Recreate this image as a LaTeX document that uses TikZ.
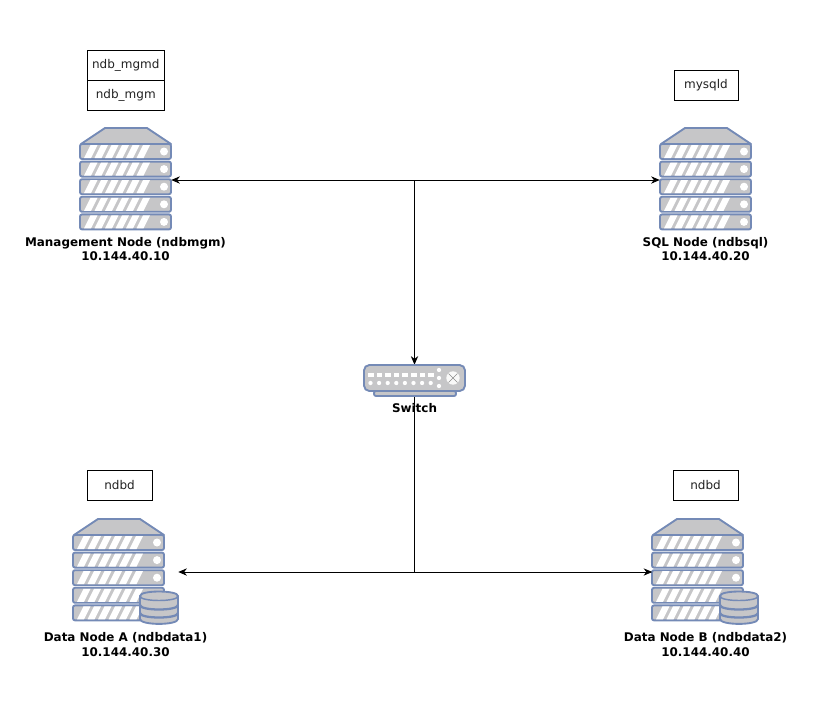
\documentclass[tikz,border=0pt]{standalone}
\usepackage{fontspec}
\setmainfont{DejaVu Sans}
\usetikzlibrary{arrows.meta,positioning}
\definecolor{rackblue}{RGB}{116,138,182}
\definecolor{rackgray}{RGB}{198,198,200}
\definecolor{inkgray}{RGB}{34,34,34}
\tikzset{
    proc/.style={draw=black,fill=white,font=\fontsize{9}{10}\selectfont,text=inkgray,inner sep=0pt,minimum height=22.5pt},
    hostlabel/.style={font=\fontsize{8.95}{10.6}\selectfont\bfseries,text=black,align=center,inner sep=0pt},
    hostbox/.style={inner sep=0pt,minimum width=#1},
    wire/.style={-{Stealth[length=6.5pt,width=5.5pt]},line width=0.6pt},
    bothwire/.style={{Stealth[length=6.5pt,width=5.5pt]}-{Stealth[length=6.5pt,width=5.5pt]},line width=0.6pt},
    slot/.style={draw=rackblue,fill=rackgray,line width=1.4pt,rounded corners=1.5pt},
    pics/serverpic/.style={code={
        % Roof
        \draw[slot,rounded corners=0pt,line join=round] (1,16) -- (25,0) -- (67,0) -- (91,16) -- cycle;
        % Slots
        \foreach \i in {0,1,2,3,4} {
            \draw[slot] (0,16+17.6*\i) rectangle (91,31+17.6*\i);
            \foreach \j in {0,1,2,3,4,5}
                \fill[white] (4+10.5*\j,30+17.6*\i) -- (10.5+10.5*\j,17+17.6*\i) -- (17.5+10.5*\j,17+17.6*\i) -- (11+10.5*\j,30+17.6*\i) -- cycle;
            \fill[white] (84,23.5+17.6*\i) circle (3pt);
        }
    }},
    pics/diskpic/.style={code={
        \draw[slot,rounded corners=0pt] (0,5) .. controls (0,-1) and (38,-1) .. (38,5) -- (38,28) .. controls (38,34.5) and (0,34.5) .. (0,28) -- cycle;
        \draw[draw=rackblue,line width=1.1pt] (0,5) .. controls (0,11) and (38,11) .. (38,5);
        \draw[draw=rackblue,line width=1.7pt] (0,14) .. controls (0,20) and (38,20) .. (38,14);
        \draw[draw=rackblue,line width=1.7pt] (0,22) .. controls (0,28) and (38,28) .. (38,22);
    }},
    pics/switchpic/.style={code={
        \draw[slot] (10,26) rectangle (92,31);
        \draw[slot,rounded corners=4pt] (0,0) rectangle (101,26);
        \foreach \i in {0,...,7} {
            \fill[white] (4+8.6*\i,8) rectangle (9.5+8.6*\i,12);
            \fill[white] (6.5+8.6*\i,18) circle (1.6pt);
        }
        \foreach \k in {5,13,21}
            \fill[white] (75,\k) circle (1.6pt);
        \fill[white!90!rackgray] (89,13) circle (5pt);
        \draw[black!45,line width=0.5pt] (84.5,8.5) -- (93.5,17.5) (84.5,17.5) -- (93.5,8.5);
    }},
}

\begin{document}
\begin{tikzpicture}[x=0.75pt,y=-0.75pt]
    \useasboundingbox (0,0) rectangle (824,711);

    % Hosts
    \node[hostbox=68.25pt,minimum height=76.5pt] (mgmt) at (125.5,180) {};
    \pic at (80,128) {serverpic};
    \node[hostbox=68.25pt,minimum height=76.5pt] (sql) at (705.5,180) {};
    \pic at (660,128) {serverpic};
    \node[hostbox=78.75pt,minimum height=79.5pt] (dataa) at (125.5,572) {};
    \pic at (73,519) {serverpic};
    \pic at (140,591) {diskpic};
    \node[hostbox=78.75pt,minimum height=79.5pt] (datab) at (705,572) {};
    \pic at (652,519) {serverpic};
    \pic at (720,591) {diskpic};

    % Switch
    \node[hostbox=75.75pt,minimum height=23.25pt] (switch) at (414.5,380.5) {};
    \coordinate (jtop) at (414.5,180);
    \coordinate (jbot) at (414.5,572);

    % Wires
    \draw[bothwire] (mgmt) -- (sql);
    \draw[bothwire] (dataa) -- (datab);
    \draw[wire] (jtop) -- (switch.north);
    \draw[line width=0.6pt] (switch.south) -- (jbot);

    \pic at (364,365) {switchpic};
    \node[hostlabel] (switchlabel) at (414.5,408) {Switch};

    % Process boxes
    \node[proc,minimum width=58pt] (mgmd) at (125.8,65) {ndb\_mgmd};
    \node[proc,minimum width=58pt] (mgmcli) at (125.8,95.2) {ndb\_mgm};
    \node[proc,minimum width=48pt] (mysqld) at (706,85.5) {mysqld};
    \node[proc,minimum width=48.75pt] (ndbda) at (119.5,485) {ndbd};
    \node[proc,minimum width=48.75pt] (ndbdb) at (705.5,485) {ndbd};

    % Host labels
    \node[hostlabel] (mgmtlabel) at (125.5,249) {Management Node (ndbmgm)\\10.144.40.10};
    \node[hostlabel] (sqllabel) at (705.5,249) {SQL Node (ndbsql)\\10.144.40.20};
    \node[hostlabel] (dataalabel) at (125.5,644.5) {Data Node A (ndbdata1)\\10.144.40.30};
    \node[hostlabel] (datablabel) at (705.5,644.5) {Data Node B (ndbdata2)\\10.144.40.40};
\end{tikzpicture}
\end{document}
